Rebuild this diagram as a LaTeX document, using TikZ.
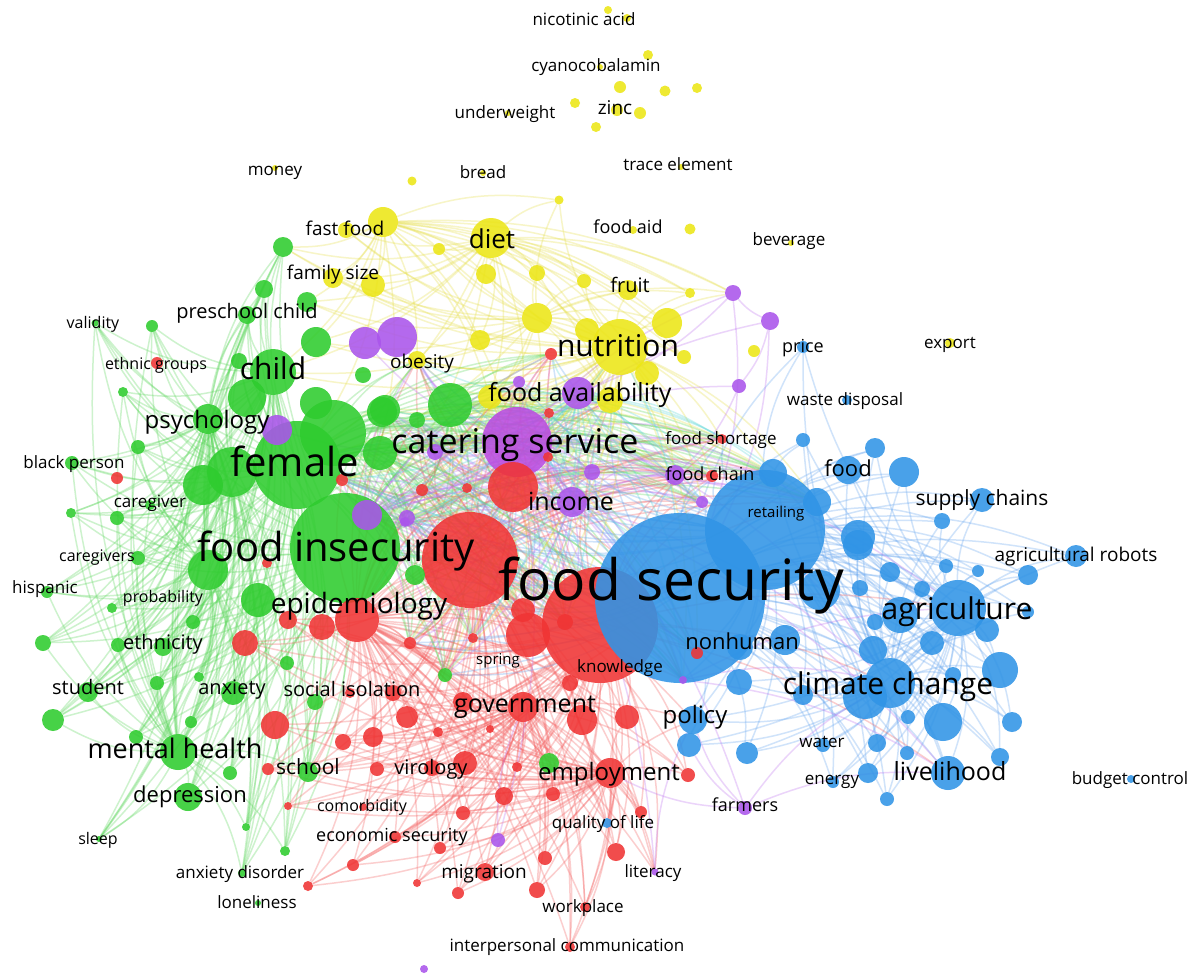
\documentclass[tikz,border=0pt]{standalone}
\usepackage{fontspec}
\setmainfont{Open Sans}
\pgfdeclarelayer{bg}
\pgfdeclarelayer{edges}
\pgfsetlayers{bg,edges,main}
\definecolor{cg}{RGB}{46,204,46}
\definecolor{cr}{RGB}{240,52,52}
\definecolor{cb}{RGB}{48,148,230}
\definecolor{cy}{RGB}{236,230,22}
\definecolor{cp}{RGB}{170,85,235}
\definecolor{cm}{RGB}{185,75,225}
\definecolor{eg}{RGB}{90,215,90}
\definecolor{ey}{RGB}{230,222,70}
\definecolor{er}{RGB}{245,95,95}
\definecolor{ebl}{RGB}{100,165,240}
\definecolor{ep}{RGB}{190,115,240}
\definecolor{ec}{RGB}{90,215,215}
\tikzset{
  bub/.style={circle,inner sep=0pt,draw=none,fill opacity=0.88},
  lab/.style={font=\fontsize{#1}{#1}\selectfont,inner sep=0pt,anchor=base,yshift=-0.33*#1pt,text=black},
  edg/.style={line width=1.5pt,draw opacity=0.3,draw=#1},
}
\newcommand\bb[5]{\node[bub,fill=#5,minimum size=#4] (#1) at (#2,#3) {};}
\newcommand\lb[5]{\node[lab=#4] (t#1) at (#2,#3) {#5};}
\begin{document}
\begin{tikzpicture}[x=1pt,y=-1pt]
\begin{pgfonlayer}{bg}
\fill[white] (0,0) rectangle (1200,980);
\end{pgfonlayer}
\useasboundingbox (0,0) rectangle (1200,980);
% ---------- big circles first
\bb{foodinsecurity}{345}{548}{110}{cg}
\bb{female}{297}{465}{88}{cg}
\bb{g16}{333}{433}{66}{cg}
\bb{r22}{470}{560}{96}{cr}
\bb{knowledge}{600}{625}{116}{cr}
\bb{retailing}{765}{530}{120}{cb}
\bb{fs}{680}{598}{170}{cb}
\bb{catering}{517}{442}{70}{cm}
\bb{nutrition}{620}{347}{56}{cy}
\bb{agriculture}{958}{608}{56}{cb}
\bb{climatechange}{890}{683}{50}{cb}
\bb{b25}{865}{697}{44}{cb}
\bb{child}{273}{372}{46}{cg}
\bb{epidemiology}{357}{620}{44}{cr}
\bb{g12}{450}{405}{44}{cg}
\bb{r5}{513}{487}{50}{cr}
\bb{g18}{232}{472}{50}{cg}
\bb{g19}{203}{485}{40}{cg}
\bb{g22}{208}{570}{40}{cg}
\bb{diet}{491}{238}{40}{cy}
\bb{r24}{528}{635}{44}{cr}
% ---------- yellow
\bb{y1}{608}{10}{8}{cy}
\bb{y2}{627}{18}{8}{cy}
\bb{y3}{648}{55}{10}{cy}
\bb{y4}{600}{67}{6}{cy}
\bb{y5}{620}{87}{12}{cy}
\bb{y6}{665}{91}{11}{cy}
\bb{y7}{697}{88}{10}{cy}
\bb{y8}{575}{103}{10}{cy}
\bb{zinc}{617}{110}{12}{cy}
\bb{y9}{640}{113}{12}{cy}
\bb{y10}{596}{127}{10}{cy}
\bb{underweight}{508}{113}{6}{cy}
\bb{money}{275}{168}{6}{cy}
\bb{y11}{412}{181}{9}{cy}
\bb{bread}{483}{173}{6}{cy}
\bb{trace}{681}{167}{6}{cy}
\bb{y12}{559}{200}{9}{cy}
\bb{foodaid}{633}{230}{8}{cy}
\bb{y13}{690}{229}{11}{cy}
\bb{beverage}{791}{243}{6}{cy}
\bb{fastfoodbig}{383}{222}{30}{cy}
\bb{fastfood}{346}{230}{16}{cy}
\bb{y14}{439}{249}{12}{cy}
\bb{y15}{486}{274}{20}{cy}
\bb{y16}{537}{273}{16}{cy}
\bb{y17}{584}{281}{14}{cy}
\bb{fruit}{628}{290}{20}{cy}
\bb{y18}{690}{293}{10}{cy}
\bb{y19}{537}{318}{30}{cy}
\bb{y20}{667}{323}{30}{cy}
\bb{y21}{480}{340}{20}{cy}
\bb{y22}{587}{330}{24}{cy}
\bb{y23}{684}{357}{14}{cy}
\bb{y24}{647}{373}{24}{cy}
\bb{y25}{417}{360}{18}{cy}
\bb{y26}{610}{400}{26}{cy}
\bb{y27}{490}{397}{24}{cy}
\bb{familysize}{333}{278}{20}{cy}
\bb{y28}{373}{285}{24}{cy}
\bb{y29}{754}{351}{12}{cy}
\bb{export}{950}{343}{10}{cy}
% ---------- green
\bb{g1}{283}{247}{20}{cg}
\bb{g2}{264}{289}{18}{cg}
\bb{g3}{307}{302}{20}{cg}
\bb{preschool}{247}{315}{18}{cg}
\bb{validity}{95}{323}{7}{cg}
\bb{g4}{152}{326}{12}{cg}
\bb{g5}{316}{342}{30}{cg}
\bb{g6}{239}{361}{16}{cg}
\bb{g7}{363}{375}{16}{cg}
\bb{g8}{123}{392}{10}{cg}
\bb{g9}{247}{398}{38}{cg}
\bb{g10}{316}{403}{32}{cg}
\bb{g11}{382}{412}{30}{cg}
\bb{g13}{417}{420}{16}{cg}
\bb{g14}{385}{410}{30}{cg}
\bb{psychology}{208}{419}{30}{cg}
\bb{g15}{138}{447}{14}{cg}
\bb{g17}{380}{453}{34}{cg}
\bb{blackperson}{72}{463}{14}{cg}
\bb{caregiver}{150}{505}{10}{cg}
\bb{g20}{71}{513}{10}{cg}
\bb{g21}{117}{518}{14}{cg}
\bb{caregivers}{138}{558}{14}{cg}
\bb{hispanic}{47}{592}{12}{cg}
\bb{g23}{112}{608}{10}{cg}
\bb{g24}{193}{622}{14}{cg}
\bb{g25}{258}{600}{34}{cg}
\bb{g26}{415}{575}{20}{cg}
\bb{g27}{43}{643}{16}{cg}
\bb{ethnicity}{163}{647}{18}{cg}
\bb{g28}{118}{645}{14}{cg}
\bb{g29}{287}{663}{14}{cg}
\bb{g30}{199}{677}{10}{cg}
\bb{g31}{157}{683}{14}{cg}
\bb{student}{88}{692}{20}{cg}
\bb{anxiety}{233}{693}{24}{cg}
\bb{g32}{315}{702}{16}{cg}
\bb{g33}{53}{720}{22}{cg}
\bb{g34}{191}{722}{12}{cg}
\bb{g35}{136}{737}{14}{cg}
\bb{mentalhealth}{178}{752}{36}{cg}
\bb{g36}{230}{773}{14}{cg}
\bb{school}{308}{772}{20}{cg}
\bb{depression}{188}{797}{28}{cg}
\bb{g37}{246}{827}{8}{cg}
\bb{sleep}{99}{839}{6}{cg}
\bb{g38}{285}{851}{10}{cg}
\bb{anxietydisorder}{242}{873}{8}{cg}
\bb{loneliness}{258}{903}{6}{cg}
\bb{g39}{445}{675}{14}{cg}
\bb{g40}{549}{763}{20}{cg}
% ---------- red
\bb{r1}{551}{354}{12}{cr}
\bb{r2}{549}{413}{10}{cr}
\bb{r3}{422}{490}{12}{cr}
\bb{r4}{467}{488}{10}{cr}
\bb{r6}{548}{457}{10}{cr}
\bb{foodshortage}{722}{439}{10}{cr}
\bb{foodchain}{712}{476}{12}{cr}
\bb{ethnicgroups}{157}{363}{12}{cr}
\bb{r7}{117}{478}{12}{cr}
\bb{r8}{342}{480}{12}{cr}
\bb{r9}{267}{563}{10}{cr}
\bb{r10}{288}{620}{18}{cr}
\bb{r11}{322}{627}{26}{cr}
\bb{r12}{245}{643}{26}{cr}
\bb{r13}{350}{693}{10}{cr}
\bb{r14}{275}{725}{28}{cr}
\bb{r15}{343}{742}{16}{cr}
\bb{r16}{373}{737}{20}{cr}
\bb{r17}{268}{769}{12}{cr}
\bb{r18}{377}{769}{14}{cr}
\bb{r19}{288}{806}{8}{cr}
\bb{comorbidity}{363}{807}{8}{cr}
\bb{r20}{353}{865}{12}{cr}
\bb{r21}{308}{886}{10}{cr}
\bb{r23}{523}{610}{24}{cr}
\bb{r25}{565}{622}{16}{cr}
\bb{r26}{473}{638}{10}{cr}
\bb{r27}{410}{643}{12}{cr}
\bb{r28}{697}{653}{12}{cr}
\bb{r29}{393}{693}{16}{cr}
\bb{r30}{570}{683}{16}{cr}
\bb{government}{523}{707}{30}{cr}
\bb{r31}{463}{702}{20}{cr}
\bb{r32}{582}{720}{30}{cr}
\bb{r33}{627}{717}{24}{cr}
\bb{r34}{407}{717}{22}{cr}
\bb{r35}{438}{732}{10}{cr}
\bb{r36}{490}{729}{8}{cr}
\bb{virology}{432}{768}{16}{cr}
\bb{r37}{465}{763}{24}{cr}
\bb{r38}{517}{767}{10}{cr}
\bb{employment}{610}{773}{30}{cr}
\bb{r39}{688}{775}{14}{cr}
\bb{r40}{504}{796}{18}{cr}
\bb{r41}{553}{794}{14}{cr}
\bb{r42}{463}{813}{14}{cr}
\bb{r43}{641}{812}{12}{cr}
\bb{r44}{395}{837}{12}{cr}
\bb{r45}{440}{848}{12}{cr}
\bb{r46}{545}{858}{14}{cr}
\bb{r47}{616}{852}{18}{cr}
\bb{migration}{485}{872}{18}{cr}
\bb{r48}{417}{883}{8}{cr}
\bb{r49}{458}{893}{12}{cr}
\bb{r50}{537}{890}{16}{cr}
\bb{workplace}{585}{907}{10}{cr}
\bb{interpersonal}{570}{947}{10}{cr}
% ---------- purple
\bb{p1}{365}{343}{32}{cp}
\bb{p2}{397}{337}{40}{cp}
\bb{p3}{519}{382}{12}{cp}
\bb{foodavailability}{578}{393}{32}{cp}
\bb{p4}{435}{452}{16}{cp}
\bb{p5}{592}{472}{16}{cp}
\bb{income}{572}{502}{30}{cp}
\bb{p6}{407}{518}{16}{cp}
\bb{p7}{733}{293}{16}{cp}
\bb{p8}{770}{321}{18}{cp}
\bb{p9}{739}{386}{14}{cp}
\bb{p10}{675}{475}{20}{cp}
\bb{p11}{702}{502}{12}{cp}
\bb{p12}{277}{430}{30}{cp}
\bb{p13}{367}{515}{30}{cp}
\bb{p14}{405}{522}{10}{cp}
\bb{p15}{683}{680}{8}{cp}
\bb{farmers}{745}{808}{14}{cp}
\bb{p16}{498}{840}{14}{cp}
\bb{literacy}{655}{872}{7}{cp}
\bb{p17}{424}{969}{8}{cp}
% ---------- blue
\bb{price}{803}{347}{12}{cb}
\bb{wastedisposal}{847}{400}{10}{cb}
\bb{b1}{803}{440}{14}{cb}
\bb{b3}{875}{448}{20}{cb}
\bb{food}{848}{470}{28}{cb}
\bb{b4}{904}{472}{30}{cb}
\bb{b5}{773}{473}{28}{cb}
\bb{b6}{817}{502}{28}{cb}
\bb{b7}{858}{537}{34}{cb}
\bb{supplychains}{982}{500}{24}{cb}
\bb{b8}{942}{521}{16}{cb}
\bb{b9}{858}{545}{30}{cb}
\bb{b10}{890}{572}{20}{cb}
\bb{b11}{860}{588}{16}{cb}
\bb{b12}{946}{566}{14}{cb}
\bb{b13}{978}{571}{12}{cb}
\bb{b14}{1028}{575}{20}{cb}
\bb{agrirobots}{1076}{556}{22}{cb}
\bb{b15}{922}{589}{16}{cb}
\bb{b16}{900}{615}{36}{cb}
\bb{b17}{875}{622}{16}{cb}
\bb{b18}{1028}{612}{12}{cb}
\bb{b19}{987}{630}{24}{cb}
\bb{b20}{932}{643}{24}{cb}
\bb{b21}{873}{650}{28}{cb}
\bb{nonhuman}{740}{647}{26}{cb}
\bb{b22}{1000}{670}{36}{cb}
\bb{b23}{953}{675}{16}{cb}
\bb{b24}{739}{682}{26}{cb}
\bb{b26}{803}{695}{20}{cb}
\bb{b27}{908}{717}{14}{cb}
\bb{b28}{943}{722}{38}{cb}
\bb{b29}{1012}{722}{20}{cb}
\bb{policy}{693}{720}{28}{cb}
\bb{b30}{689}{745}{24}{cb}
\bb{b31}{747}{753}{22}{cb}
\bb{water}{823}{745}{14}{cb}
\bb{b32}{877}{743}{18}{cb}
\bb{b33}{907}{753}{14}{cb}
\bb{b34}{1000}{757}{18}{cb}
\bb{energy}{833}{782}{12}{cb}
\bb{b35}{868}{773}{20}{cb}
\bb{livelihood}{948}{773}{34}{cb}
\bb{budgetcontrol}{1131}{779}{8}{cb}
\bb{b36}{887}{799}{14}{cb}
\bb{qualityoflife}{607}{823}{10}{cb}
\bb{b38}{820}{590}{40}{cb}
\bb{b39}{785}{640}{30}{cb}
% ---------- edges
\begin{pgfonlayer}{edges}
% green hubs to green leaves
\foreach \a in {female,foodinsecurity,child,g18,g22,mentalhealth,psychology}
 \foreach \b in {g1,g2,preschool,validity,g4,g6,g8,g15,blackperson,caregiver,g20,g21,caregivers,hispanic,g23,g24,g27,ethnicity,g28,g30,g31,student,anxiety,g33,g34,g35,mentalhealth,g36,school,depression,g37,g38,anxietydisorder,sleep}
  {\ifx\a\b\else\draw[edg=eg] (\a) to[bend left=14] (\b);\fi}
% yellow hubs to yellow leaves
\foreach \a in {diet,nutrition,fastfoodbig,y19}
 \foreach \b in {fastfood,y14,familysize,y15,y16,y17,fruit,y18,y20,y21,y22,y23,y24,y25,y26,y27,y28,y12,g1,g3,g5,child,female,foodinsecurity,catering,p7}
  {\ifx\a\b\else\draw[edg=ey] (\a) to[bend left=14] (\b);\fi}
% red hubs to red leaves
\foreach \a in {knowledge,r22,government,epidemiology,employment}
 \foreach \b in {r10,r11,r12,r14,r15,r16,r17,r18,r19,comorbidity,r20,r21,r27,r29,r30,r31,r32,r33,r34,r35,r36,virology,r37,r38,r39,r40,r41,r42,r43,r44,r45,r46,r47,migration,r48,r49,r50,workplace,interpersonal,school,g40,literacy,qualityoflife}
  {\ifx\a\b\else\draw[edg=er] (\a) to[bend left=14] (\b);\fi}
% blue hubs to blue leaves
\foreach \a in {fs,retailing,agriculture,climatechange}
 \foreach \b in {price,b1,b3,food,b4,b5,b6,b7,supplychains,b8,b9,b10,b12,b13,b14,agrirobots,b15,b16,b18,b19,b20,b21,nonhuman,b22,b23,b24,b26,b27,b28,b29,policy,b30,b31,water,b32,b33,b34,energy,b35,livelihood,b36}
  {\ifx\a\b\else\draw[edg=ebl] (\a) to[bend left=14] (\b);\fi}
% central multicoloured mesh
\foreach \a/\c in {female/eg,foodinsecurity/eg,g17/eg,g12/eg,catering/ep,r5/er,r22/er,income/ep,epidemiology/er,knowledge/er,fs/ebl,nutrition/ey,y27/ey,p13/ep,retailing/ebl,g16/eg,foodavailability/ec}
 \foreach \b in {r3,r4,r6,p4,p5,p6,p14,r8,g26,r23,r24,r25,r26,y26,p3,r1,r2,g13,g14,p10,p11,foodchain,foodshortage,r28,p15,b5,b6,g39,r27,y25}
  {\draw[edg=\c] (\a) to[bend left=14] (\b);}
\foreach \a/\b in {female/catering,female/r22,female/knowledge,female/fs,foodinsecurity/catering,foodinsecurity/knowledge,foodinsecurity/fs,foodinsecurity/income,catering/fs,catering/knowledge,catering/r22,income/fs,r5/fs,nutrition/fs,nutrition/catering,g12/fs,g17/knowledge,epidemiology/fs,epidemiology/catering}
  \draw[edg=ec] (\a) to[bend left=10] (\b);
% purple links
\foreach \a/\b in {catering/p1,catering/p2,catering/p3,catering/foodavailability,catering/income,catering/p4,catering/p5,catering/p10,catering/p7,catering/p8,catering/p9,catering/farmers,catering/literacy,catering/p16,catering/p12,catering/p13,
p8/p7,p8/p9,p7/foodavailability,p9/p10,farmers/policy,farmers/climatechange,farmers/b30,farmers/livelihood,farmers/employment,p15/climatechange,p15/agriculture,p15/livelihood,p8/fs,p7/fs,literacy/policy,p10/climatechange,p10/agriculture,income/climatechange,income/livelihood,p16/government}
  \draw[edg=ep] (\a) to[bend left=12] (\b);
\foreach \a/\b in {knowledge/climatechange,knowledge/agriculture,knowledge/livelihood,government/policy,employment/policy,knowledge/nonhuman,r22/policy,fs/school}
  \draw[edg=er] (\a) to[bend left=10] (\b);
\end{pgfonlayer}
% ---------- labels
\lb{nicotinic}{584}{20}{17}{nicotinic acid}
\lb{cyano}{596}{66}{17}{cyanocobalamin}
\lb{zinc}{615}{108}{19}{zinc}
\lb{underweight}{505}{113}{17}{underweight}
\lb{money}{275}{170}{17}{money}
\lb{bread}{483}{173}{17}{bread}
\lb{trace}{678}{165}{17}{trace element}
\lb{foodaid}{628}{228}{18}{food aid}
\lb{beverage}{789}{240}{17}{beverage}
\lb{fastfood}{345}{229}{19}{fast food}
\lb{diet}{492}{240}{26}{diet}
\lb{familysize}{333}{273}{19}{family size}
\lb{fruit}{630}{286}{20}{fruit}
\lb{preschool}{247}{312}{20}{preschool child}
\lb{validity}{93}{323}{16}{validity}
\lb{ethnicgroups}{156}{364}{16}{ethnic groups}
\lb{obesity}{422}{362}{19}{obesity}
\lb{nutrition}{618}{347}{30}{nutrition}
\lb{price}{803}{347}{18}{price}
\lb{export}{950}{343}{17}{export}
\lb{foodavailability}{580}{393}{25}{food availability}
\lb{wastedisposal}{845}{400}{17}{waste disposal}
\lb{child}{273}{370}{30}{child}
\lb{psychology}{207}{421}{24}{psychology}
\lb{catering}{515}{442}{34}{catering service}
\lb{foodshortage}{721}{439}{17}{food shortage}
\lb{blackperson}{74}{463}{17}{black person}
\lb{female}{295}{463}{40}{female}
\lb{foodchain}{710}{475}{18}{food chain}
\lb{food}{848}{469}{22}{food}
\lb{caregiver}{150}{502}{17}{caregiver}
\lb{income}{571}{502}{25}{income}
\lb{supplychains}{982}{499}{21}{supply chains}
\lb{retailing}{776}{513}{15}{retailing}
\lb{foodinsecurity}{336}{548}{40}{food insecurity}
\lb{caregivers}{97}{556}{16}{caregivers}
\lb{fs}{671}{582}{57}{food security}
\lb{agrirobots}{1076}{555}{19}{agricultural robots}
\lb{hispanic}{45}{588}{17}{hispanic}
\lb{probability}{163}{597}{16}{probability}
\lb{epidemiology}{359}{604}{28}{epidemiology}
\lb{agriculture}{957}{610}{30}{agriculture}
\lb{nonhuman}{742}{642}{22}{nonhuman}
\lb{ethnicity}{163}{643}{20}{ethnicity}
\lb{spring}{498}{660}{15}{spring}
\lb{knowledge}{620}{667}{17}{knowledge}
\lb{student}{88}{688}{20}{student}
\lb{anxiety}{232}{688}{20}{anxiety}
\lb{socialisolation}{352}{690}{20}{social isolation}
\lb{climatechange}{888}{685}{30}{climate change}
\lb{government}{525}{704}{25}{government}
\lb{policy}{695}{716}{24}{policy}
\lb{mentalhealth}{175}{750}{27}{mental health}
\lb{water}{822}{742}{17}{water}
\lb{school}{308}{768}{21}{school}
\lb{virology}{431}{768}{20}{virology}
\lb{employment}{609}{773}{24}{employment}
\lb{livelihood}{950}{772}{25}{livelihood}
\lb{energy}{832}{779}{17}{energy}
\lb{budgetcontrol}{1130}{779}{17}{budget control}
\lb{depression}{190}{795}{22}{depression}
\lb{comorbidity}{362}{806}{16}{comorbidity}
\lb{farmers}{745}{806}{18}{farmers}
\lb{sleep}{98}{839}{16}{sleep}
\lb{economicsecurity}{392}{836}{18}{economic security}
\lb{qualityoflife}{603}{823}{17}{quality of life}
\lb{anxietydisorder}{240}{873}{17}{anxiety disorder}
\lb{migration}{484}{872}{19}{migration}
\lb{literacy}{653}{872}{17}{literacy}
\lb{loneliness}{257}{903}{17}{loneliness}
\lb{workplace}{583}{907}{17}{workplace}
\lb{interpersonal}{567}{946}{17}{interpersonal communication}
\end{tikzpicture}
\end{document}
